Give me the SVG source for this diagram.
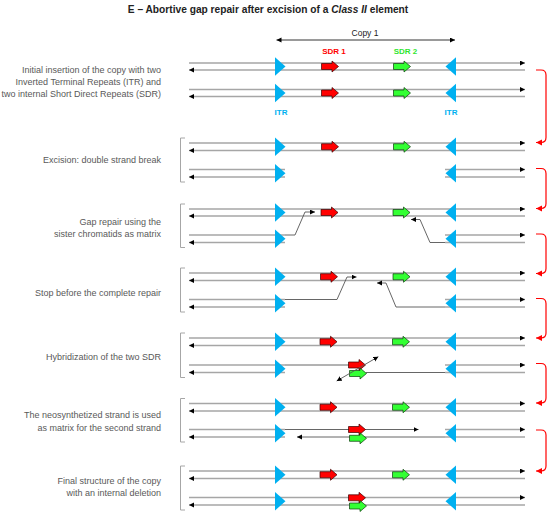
<svg xmlns="http://www.w3.org/2000/svg" xmlns:xlink="http://www.w3.org/1999/xlink" width="550" height="515" viewBox="0 0 550 515">
<style>
.s{stroke:#a6a6a6;stroke-width:1.3;fill:none}
.n{stroke:#555;stroke-width:0.9;fill:none}
.r{fill:#ff0000;stroke:#3a0000;stroke-width:0.7}
.g{fill:#33ff33;stroke:#0b3a0b;stroke-width:0.7}
.itr{fill:#00b0f0}
.lbl{font-family:"Liberation Sans",Arial,sans-serif;font-size:9px;fill:#595959;text-anchor:end}
.br{stroke:#a6a6a6;fill:none;stroke-width:1}
.red{stroke:#ff0000;stroke-width:1.2;fill:none}
.bt{font-family:"Liberation Sans",Arial,sans-serif;font-weight:bold;font-size:8px;text-anchor:middle}
</style>
<defs>
<marker id="a" markerUnits="userSpaceOnUse" markerWidth="6" markerHeight="6" refX="5" refY="2.5" orient="auto-start-reverse"><path d="M0,0 L5,2.5 L0,5z" fill="#000"/></marker>
<marker id="ra" markerUnits="userSpaceOnUse" markerWidth="7" markerHeight="7" refX="6" refY="3" orient="auto"><path d="M0,0 L6,3 L0,6z" fill="#ff0000"/></marker>
<path id="tR" d="M0,-9.2 L10.5,0 L0,9.2z"/>
<path id="tL" d="M0,-9.2 L-10.5,0 L0,9.2z"/>
<path id="sdr" d="M0,-3 H10.5 V-5.5 L17,0 L10.5,5.5 V3 H0z"/>
</defs>

<text x="268" y="13" font-family="Liberation Sans, Arial, sans-serif" font-weight="bold" font-size="10.2" fill="#222" text-anchor="middle">E – Abortive gap repair after excision of a <tspan font-style="italic">Class II</tspan> element</text>

<g id="copy1">
<line x1="276.5" y1="40" x2="455" y2="40" stroke="#000" stroke-width="0.8" marker-start="url(#a)" marker-end="url(#a)"/>
<text x="365" y="36" font-family="Liberation Sans, Arial, sans-serif" font-size="8.5" fill="#222" text-anchor="middle">Copy 1</text>
</g>

<g id="panel1">
<text class="lbl" x="161" y="72.5">Initial insertion of the copy with two</text>
<text class="lbl" x="161" y="84.5">Inverted Terminal Repeats (ITR) and</text>
<text class="lbl" x="161" y="96.5">two internal Short Direct Repeats (SDR)</text>
<text class="bt" x="334" y="54" fill="#ff0000">SDR 1</text>
<text class="bt" x="405.5" y="54" fill="#2fe62f">SDR 2</text>
<text class="bt" x="281" y="115" fill="#00b0f0">ITR</text>
<text class="bt" x="451" y="115" fill="#00b0f0">ITR</text>
<line class="s" x1="189" y1="63" x2="525" y2="63" marker-end="url(#a)"/>
<line class="s" x1="189" y1="70" x2="525" y2="70" marker-start="url(#a)"/>
<line class="s" x1="189" y1="89.5" x2="525" y2="89.5" marker-end="url(#a)"/>
<line class="s" x1="189" y1="96.5" x2="525" y2="96.5" marker-start="url(#a)"/>
<use href="#tR" x="275" y="66.5" class="itr"/><use href="#tL" x="456" y="66.5" class="itr"/>
<use href="#tR" x="275" y="93" class="itr"/><use href="#tL" x="456" y="93" class="itr"/>
<use href="#sdr" x="321.5" y="66.5" class="r"/><use href="#sdr" x="393.5" y="66.5" class="g"/>
<use href="#sdr" x="321.5" y="93" class="r"/><use href="#sdr" x="393.5" y="93" class="g"/>
</g>

<g id="panel2">
<text class="lbl" x="161" y="163">Excision: double strand break</text>
<path class="br" d="M185,138 H180.5 V182 H185"/>
<line class="s" x1="189" y1="143" x2="525" y2="143" marker-end="url(#a)"/>
<line class="s" x1="189" y1="150.5" x2="525" y2="150.5" marker-start="url(#a)"/>
<line class="s" x1="189" y1="169.5" x2="285" y2="169.5"/>
<line class="s" x1="189" y1="177" x2="285" y2="177" marker-start="url(#a)"/>
<line class="s" x1="445" y1="169.5" x2="525" y2="169.5" marker-end="url(#a)"/>
<line class="s" x1="445" y1="177" x2="525" y2="177"/>
<use href="#tR" x="275" y="146.75" class="itr"/><use href="#tL" x="456" y="146.75" class="itr"/>
<use href="#tR" x="275" y="173.25" class="itr"/><use href="#tL" x="456" y="173.25" class="itr"/>
<use href="#sdr" x="321.5" y="146.75" class="r"/><use href="#sdr" x="393.5" y="146.75" class="g"/>
</g>

<g id="panel3">
<text class="lbl" x="161" y="224.5">Gap repair using the</text>
<text class="lbl" x="161" y="236.5">sister chromatids as matrix</text>
<path class="br" d="M185,204 H180.5 V247.5 H185"/>
<line class="s" x1="189" y1="209" x2="525" y2="209" marker-end="url(#a)"/>
<line class="s" x1="189" y1="216" x2="525" y2="216" marker-start="url(#a)"/>
<line class="s" x1="189" y1="235" x2="285" y2="235"/>
<line class="s" x1="189" y1="242.5" x2="285" y2="242.5" marker-start="url(#a)"/>
<line class="s" x1="445" y1="235" x2="525" y2="235" marker-end="url(#a)"/>
<line class="s" x1="445" y1="242.5" x2="525" y2="242.5"/>
<path class="n" d="M285,235 H295 L305,212 H315" marker-end="url(#a)"/>
<path class="n" d="M445,242.5 H430 L420,219.5 H411" marker-end="url(#a)"/>
<use href="#tR" x="275" y="212.5" class="itr"/><use href="#tL" x="456" y="212.5" class="itr"/>
<use href="#tR" x="275" y="238.75" class="itr"/><use href="#tL" x="456" y="238.75" class="itr"/>
<use href="#sdr" x="321" y="212.5" class="r"/><use href="#sdr" x="393" y="212.5" class="g"/>
</g>

<g id="panel4">
<text class="lbl" x="161" y="295.5">Stop before the complete repair</text>
<path class="br" d="M185,268 H180.5 V312 H185"/>
<line class="s" x1="189" y1="273" x2="525" y2="273" marker-end="url(#a)"/>
<line class="s" x1="189" y1="280.5" x2="525" y2="280.5" marker-start="url(#a)"/>
<line class="s" x1="189" y1="299.5" x2="285" y2="299.5"/>
<line class="s" x1="189" y1="307" x2="285" y2="307" marker-start="url(#a)"/>
<line class="s" x1="445" y1="299.5" x2="525" y2="299.5" marker-end="url(#a)"/>
<line class="s" x1="445" y1="307" x2="525" y2="307"/>
<path class="n" d="M285,299.5 H337 L347,277 H356.5" marker-end="url(#a)"/>
<path class="n" d="M445,307 H396 L386,283 H377" marker-end="url(#a)"/>
<use href="#tR" x="275" y="276.75" class="itr"/><use href="#tL" x="456" y="276.75" class="itr"/>
<use href="#tR" x="275" y="303.25" class="itr"/><use href="#tL" x="456" y="303.25" class="itr"/>
<use href="#sdr" x="320.5" y="276.75" class="r"/><use href="#sdr" x="393" y="276.75" class="g"/>
</g>

<g id="panel5">
<text class="lbl" x="161" y="360">Hybridization of the two SDR</text>
<path class="br" d="M185,333 H180.5 V377.5 H185"/>
<line class="s" x1="189" y1="338" x2="525" y2="338" marker-end="url(#a)"/>
<line class="s" x1="189" y1="345.5" x2="525" y2="345.5" marker-start="url(#a)"/>
<line class="s" x1="189" y1="365" x2="285" y2="365"/>
<line class="s" x1="189" y1="372.5" x2="285" y2="372.5" marker-start="url(#a)"/>
<line class="s" x1="445" y1="365" x2="525" y2="365" marker-end="url(#a)"/>
<line class="s" x1="445" y1="372.5" x2="525" y2="372.5"/>
<line class="n" x1="285" y1="365" x2="349" y2="365"/>
<line class="n" x1="366" y1="372.5" x2="445" y2="372.5"/>
<use href="#tR" x="275" y="341.75" class="itr"/><use href="#tL" x="456" y="341.75" class="itr"/>
<use href="#tR" x="275" y="368.75" class="itr"/><use href="#tL" x="456" y="368.75" class="itr"/>
<use href="#sdr" x="320" y="341.75" class="r"/><use href="#sdr" x="392.5" y="341.75" class="g"/>
<use href="#sdr" x="348.5" y="365" class="r"/><use href="#sdr" x="349.5" y="373.5" class="g"/>
<line class="n" x1="336.7" y1="381" x2="378.3" y2="356.7" stroke="#333" marker-start="url(#a)" marker-end="url(#a)"/>
</g>

<g id="panel6">
<text class="lbl" x="161" y="418">The neosynthetized strand is used</text>
<text class="lbl" x="161" y="430.5">as matrix for the second strand</text>
<path class="br" d="M185,398.5 H180.5 V442 H185"/>
<line class="s" x1="189" y1="403.5" x2="525" y2="403.5" marker-end="url(#a)"/>
<line class="s" x1="189" y1="411" x2="525" y2="411" marker-start="url(#a)"/>
<line class="s" x1="189" y1="429.5" x2="285" y2="429.5"/>
<line class="s" x1="189" y1="437" x2="285" y2="437" marker-start="url(#a)"/>
<line class="s" x1="445" y1="429.5" x2="525" y2="429.5" marker-end="url(#a)"/>
<line class="s" x1="445" y1="437" x2="525" y2="437"/>
<line class="n" x1="285" y1="429.5" x2="349" y2="429.5"/>
<line class="n" x1="365" y1="429.5" x2="418.5" y2="429.5" marker-end="url(#a)"/>
<line class="n" x1="297" y1="437" x2="445" y2="437" marker-start="url(#a)"/>
<use href="#tR" x="275" y="407.25" class="itr"/><use href="#tL" x="456" y="407.25" class="itr"/>
<use href="#tR" x="275" y="433.25" class="itr"/><use href="#tL" x="456" y="433.25" class="itr"/>
<use href="#sdr" x="320" y="407.25" class="r"/><use href="#sdr" x="392.5" y="407.25" class="g"/>
<use href="#sdr" x="348.5" y="429.5" class="r"/><use href="#sdr" x="349.5" y="438.3" class="g"/>
</g>

<g id="panel7">
<text class="lbl" x="161" y="483.5">Final structure of the copy</text>
<text class="lbl" x="161" y="496">with an internal deletion</text>
<path class="br" d="M185,466 H180.5 V510 H185"/>
<line class="s" x1="189" y1="471" x2="525" y2="471" marker-end="url(#a)"/>
<line class="s" x1="189" y1="478.5" x2="525" y2="478.5" marker-start="url(#a)"/>
<line class="s" x1="189" y1="497.5" x2="525" y2="497.5" marker-end="url(#a)"/>
<line class="s" x1="189" y1="505" x2="525" y2="505" marker-start="url(#a)"/>
<use href="#tR" x="275" y="474.75" class="itr"/><use href="#tL" x="456" y="474.75" class="itr"/>
<use href="#tR" x="275" y="501.25" class="itr"/><use href="#tL" x="456" y="501.25" class="itr"/>
<use href="#sdr" x="320" y="474.75" class="r"/><use href="#sdr" x="392.5" y="474.75" class="g"/>
<use href="#sdr" x="348.5" y="497.8" class="r"/><use href="#sdr" x="349.5" y="506" class="g"/>
</g>

<g id="connectors">
<path class="red" marker-end="url(#ra)" d="M536,70 H541 Q546,70 546,75 V137.5 Q546,142.5 541,142.5 H536"/>
<path class="red" marker-end="url(#ra)" d="M536,168.5 H541 Q546,168.5 546,173.5 V203.5 Q546,208.5 541,208.5 H536"/>
<path class="red" marker-end="url(#ra)" d="M536,234 H541 Q546,234 546,239 V268.5 Q546,273.5 541,273.5 H536"/>
<path class="red" marker-end="url(#ra)" d="M536,298.5 H541 Q546,298.5 546,303.5 V333 Q546,338 541,338 H536"/>
<path class="red" marker-end="url(#ra)" d="M536,363.5 H541 Q546,363.5 546,368.5 V398 Q546,403 541,403 H536"/>
<path class="red" marker-end="url(#ra)" d="M536,430 H541 Q546,430 546,435 V466 Q546,471 541,471 H536"/>
</g>
</svg>
